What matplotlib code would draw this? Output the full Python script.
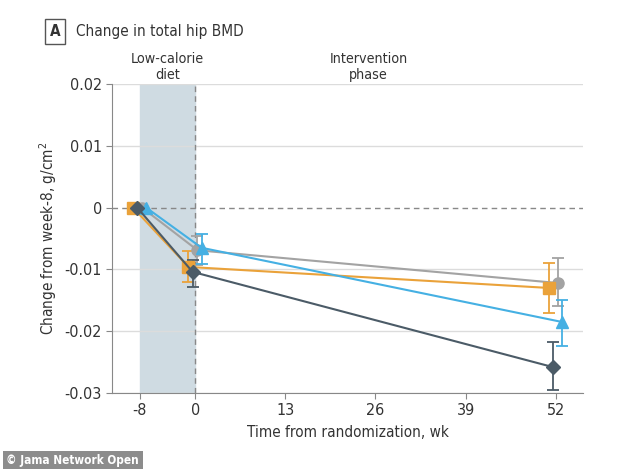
import matplotlib
matplotlib.use('Agg')
import matplotlib.pyplot as plt

plt.rcParams['font.family'] = ['DejaVu Sans']
plt.rcParams['font.stretch'] = 'condensed'
plt.rcParams['axes.unicode_minus'] = False

# Datos (semana, cambio g/cm2, barras de error)
weeks = [-8, 0, 52]
x_offsets = {'orange': -1.0, 'dark': -0.4, 'gray': 0.3, 'blue': 0.9}

orange_y = [0.0, -0.0096, -0.0130]
orange_lo = [0.0, -0.0120, -0.0170]
orange_hi = [0.0, -0.0071, -0.0089]

gray_y = [0.0, -0.0069, -0.0122]
gray_lo = [0.0, -0.0093, -0.0160]
gray_hi = [0.0, -0.0046, -0.0081]

blue_y = [0.0, -0.0065, -0.0185]
blue_lo = [0.0, -0.0092, -0.0224]
blue_hi = [0.0, -0.0042, -0.0149]

dark_y = [0.0, -0.0104, -0.0258]
dark_lo = [0.0, -0.0128, -0.0295]
dark_hi = [0.0, -0.0084, -0.0217]

xticks = [-8, 0, 13, 26, 39, 52]
yticks = [-0.03, -0.02, -0.01, 0, 0.01, 0.02]
ytick_labels = ['-0.03', '-0.02', '-0.01', '0', '0.01', '0.02']

colors = {'orange': '#eaa23a', 'gray': '#a3a3a3', 'blue': '#45b0e3', 'dark': '#4b5b67'}
markers = {'orange': 's', 'gray': 'o', 'blue': '^', 'dark': 'D'}
series = {
    'gray': (gray_y, gray_lo, gray_hi),
    'orange': (orange_y, orange_lo, orange_hi),
    'blue': (blue_y, blue_lo, blue_hi),
    'dark': (dark_y, dark_lo, dark_hi),
}

fig = plt.figure(figsize=(6.34, 4.69), dpi=100)
ax = fig.add_axes([0.177, 0.162, 0.743, 0.659])

# fase de dieta baja en calorias
ax.axvspan(-8, 0, color='#cfdbe2', zorder=0)
for yv in yticks:
    if yv == 0:
        ax.axhline(yv, color='#888888', lw=1, ls=(0, (4, 3)), zorder=1)
    else:
        ax.axhline(yv, color='#dcdcdc', lw=1, zorder=1)
ax.axvline(0, color='#888888', lw=1, ls=(0, (4, 3)), zorder=1)

for name, (y, lo, hi) in series.items():
    xs = [w + x_offsets[name] for w in weeks]
    err = [[a - b for a, b in zip(y, lo)], [b - a for a, b in zip(y, hi)]]
    ax.errorbar(xs[1:], y[1:], yerr=[err[0][1:], err[1][1:]], fmt='none',
                ecolor=colors[name], elinewidth=1.3, capsize=4, capthick=1.3, zorder=3)
    ms = {'s': 8, 'o': 8, '^': 9, 'D': 7}[markers[name]]
    ax.plot(xs, y, color=colors[name], lw=1.5, marker=markers[name], ms=ms,
            markeredgecolor=colors[name], zorder=4)

ax.set_xlim(-12, 56)
ax.set_ylim(-0.03, 0.02)
ax.set_xticks(xticks)
ax.set_yticks(yticks)
ax.set_yticklabels(ytick_labels)
ax.tick_params(labelsize=11.5, colors='#333333', length=4, color='#888888')
for s in ['top', 'right']:
    ax.spines[s].set_visible(False)
for s in ['left', 'bottom']:
    ax.spines[s].set_color('#888888')
ax.set_xlabel('Time from randomization, wk', fontsize=11, color='#333333', labelpad=5)
ax.set_ylabel('Change from week-8, g/cm$^2$', fontsize=11, color='#333333')

ax.text(-4, 0.0203, 'Low-calorie\ndiet', ha='center', va='bottom', fontsize=10.3,
        color='#333333', linespacing=1.15)
ax.text(25, 0.0203, 'Intervention\nphase', ha='center', va='bottom', fontsize=10.3,
        color='#333333', linespacing=1.15)

fig.text(0.087, 0.933, 'A', ha='center', va='center', fontsize=11, fontweight='bold',
         color='#333333', bbox=dict(boxstyle='square,pad=0.3', fc='white', ec='#555555'))
fig.text(0.12, 0.933, 'Change in total hip BMD', ha='left', va='center',
         fontsize=11, color='#333333')

fig.text(0.01, 0.018, '\u00a9 Jama Network Open', ha='left', va='center', fontsize=8.5,
         fontweight='bold', color='white',
         bbox=dict(boxstyle='square,pad=0.3', fc='#8c8c8c', ec='none'))

fig.savefig('out.png', dpi=100)
